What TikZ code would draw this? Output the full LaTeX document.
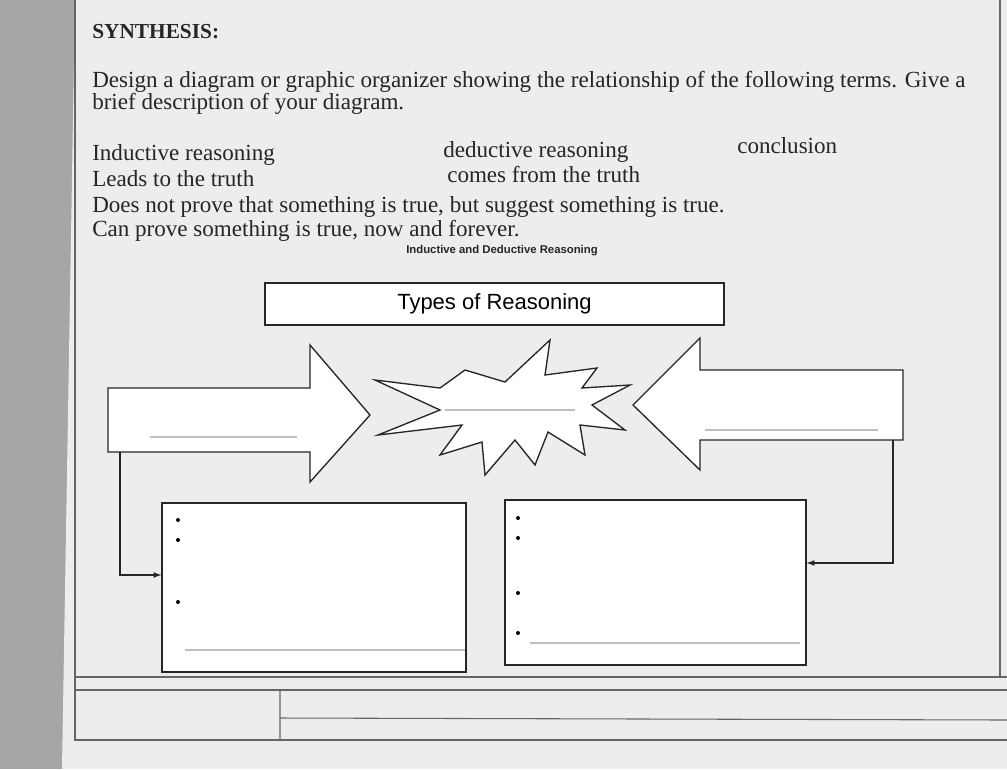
\documentclass[tikz,border=0pt]{standalone}
\usepackage{fontspec}
\setmainfont{Liberation Serif}
\newfontfamily\sansf{Liberation Sans}
\begin{document}
\begin{tikzpicture}[x=0.75pt,y=-0.75pt,
  shp/.style={draw=black!85,line width=1pt,fill=white},
  faint/.style={draw=black!25,line width=1pt},
  conn/.style={draw=black!85,line width=1pt,-latex},
  txt/.style={anchor=base west,inner sep=0pt,font=\fontsize{17.3}{19}\selectfont,text=black!85}]
\useasboundingbox (0,0) rectangle (1007,769);
\fill[black!35] (0,0) rectangle (1007,769);
\fill[white!93!black] (75,0) -- (1007,0) -- (1007,769) -- (62,769) -- cycle;
\draw[black!60,line width=0.8pt] (75,0) -- (75,740) -- (1007,740);
\draw[black!60,line width=0.8pt] (1000,0) -- (1000,677);
\draw[black!60,line width=0.8pt] (75,690) -- (1007,690) (75,677) -- (1007,677);
\draw[black!60,line width=0.8pt] (280,690) -- (280,740) (280,718) -- (1007,720);
\node[txt,font=\bfseries\fontsize{16}{18}\selectfont] (syn) at (92,38) {SYNTHESIS:};
\node[txt] (p1) at (92,87) {Design a diagram or graphic organizer showing the relationship of the following terms. Give a};
\node[txt] (p2) at (92,109) {brief description of your diagram.};
\node[txt] (t1) at (92,160) {Inductive reasoning};
\node[txt] (t2) at (443,157) {deductive reasoning};
\node[txt] (t3) at (737,153) {conclusion};
\node[txt] (t4) at (92,186) {Leads to the truth};
\node[txt] (t5) at (447,182) {comes from the truth};
\node[txt] (t6) at (92,212) {Does not prove that something is true, but suggest something is true.};
\node[txt] (t7) at (92,236) {Can prove something is true, now and forever.};
\node[font=\sansf\bfseries\fontsize{8.5}{9}\selectfont,text=black!85] (sub) at (502,251) {Inductive and Deductive Reasoning};
\node[shp,minimum width=459*0.75pt,minimum height=42*0.75pt,font=\sansf\fontsize{16.5}{18}\selectfont] (title) at (494.5,304) {Types of Reasoning};
\draw[shp] (108,388) -- (310,388) -- (310,345) -- (370,415) -- (310,482) -- (310,452) -- (108,452) -- cycle;
\draw[shp] (903,370) -- (700,370) -- (700,338) -- (633,405) -- (700,470) -- (700,440) -- (903,440) -- cycle;
\draw[shp] (375,380) -- (440,388) -- (465,370) -- (505,382) -- (550,340) -- (545,375) -- (597,368) -- (582,388) -- (630,385) -- (592,405) -- (625,430) -- (580,425) -- (585,455) -- (548,432) -- (535,465) -- (515,440) -- (485,475) -- (482,442) -- (440,455) -- (462,425) -- (378,435) -- (440,410) -- cycle;
\draw[faint] (150,437) -- (297,437) (705,430) -- (878,430) (445,410) -- (575,410);
\node[shp,minimum width=304*0.75pt,minimum height=169*0.75pt] (lb) at (314,587.5) {};
\node[shp,minimum width=301*0.75pt,minimum height=165*0.75pt] (rb) at (655.5,582.5) {};
\draw[faint] (185,650) -- (465,650) (530,643) -- (800,643);
\foreach \y in {520,540,602} \fill (178,\y) circle (2);
\foreach \y in {518,538,593,633} \fill (518,\y) circle (2);
\coordinate (l1) at (120,452); \coordinate (l2) at (120,575);
\coordinate (r1) at (893,440); \coordinate (r2) at (893,563);
\draw[conn] (l1) -- (l2) -- (lb.west |- l2);
\draw[conn] (r1) -- (r2) -- (rb.east |- r2);
\end{tikzpicture}
\end{document}
